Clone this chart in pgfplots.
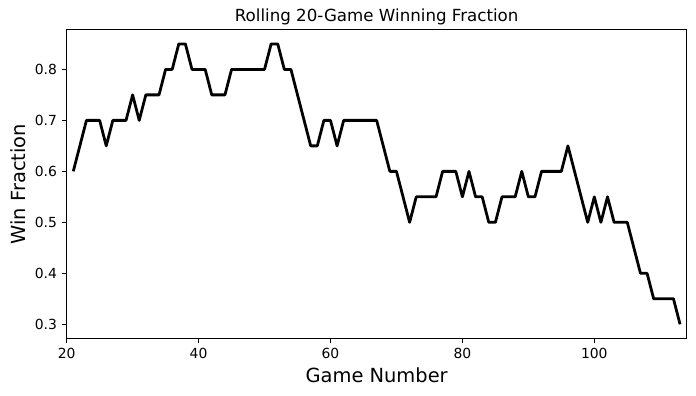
\documentclass[border=0pt]{standalone}
\usepackage{fontspec}
\setmainfont{DejaVu Sans}
\usepackage{pgfplots}
\pgfplotsset{compat=1.18}
\begin{document}
\begin{tikzpicture}[x=1pt,y=1pt]
\path[use as bounding box] (0,0) rectangle (501.12,285.12);
\begin{axis}[
  at={(48.0pt,41.5pt)}, anchor=south west,
  scale only axis, width=446.4pt, height=222.1pt,
  xmin=20, xmax=114, ymin=0.2725, ymax=0.8775,
  xtick={20,40,60,80,100}, ytick={0.3,0.4,0.5,0.6,0.7,0.8},
  yticklabel style={/pgf/number format/.cd,fixed,fixed zerofill,precision=1},
  /pgf/number format/assume math mode=true,
  xtick pos=bottom, ytick pos=left, tick align=outside,
  major tick length=3.5pt,
  axis line style={line width=0.8pt},
  every tick/.style={black, line width=0.8pt},
  tick label style={font=\fontsize{10}{12}\selectfont},
  title={Rolling 20-Game Winning Fraction},
  title style={font=\fontsize{12}{14}\selectfont, yshift=-6.3pt},
  xlabel={Game Number}, ylabel={Win Fraction},
  label style={font=\fontsize{14}{16}\selectfont},
  xlabel style={yshift=0pt},
  ylabel style={yshift=0pt},
]
\addplot[black, line width=2pt, line join=round] table {
21 0.6
22 0.65
23 0.7
24 0.7
25 0.7
26 0.65
27 0.7
28 0.7
29 0.7
30 0.75
31 0.7
32 0.75
33 0.75
34 0.75
35 0.8
36 0.8
37 0.85
38 0.85
39 0.8
40 0.8
41 0.8
42 0.75
43 0.75
44 0.75
45 0.8
46 0.8
47 0.8
48 0.8
49 0.8
50 0.8
51 0.85
52 0.85
53 0.8
54 0.8
55 0.75
56 0.7
57 0.65
58 0.65
59 0.7
60 0.7
61 0.65
62 0.7
63 0.7
64 0.7
65 0.7
66 0.7
67 0.7
68 0.65
69 0.6
70 0.6
71 0.55
72 0.5
73 0.55
74 0.55
75 0.55
76 0.55
77 0.6
78 0.6
79 0.6
80 0.55
81 0.6
82 0.55
83 0.55
84 0.5
85 0.5
86 0.55
87 0.55
88 0.55
89 0.6
90 0.55
91 0.55
92 0.6
93 0.6
94 0.6
95 0.6
96 0.65
97 0.6
98 0.55
99 0.5
100 0.55
101 0.5
102 0.55
103 0.5
104 0.5
105 0.5
106 0.45
107 0.4
108 0.4
109 0.35
110 0.35
111 0.35
112 0.35
113 0.3
};
\end{axis}
\end{tikzpicture}
\end{document}
